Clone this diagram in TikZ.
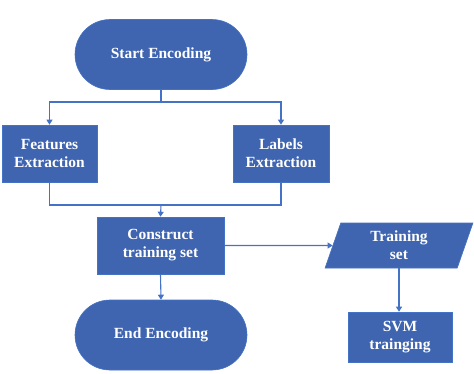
\documentclass[tikz,border=0pt]{standalone}
\usepackage{fontspec}
\setmainfont{Liberation Serif}
\usetikzlibrary{shapes.geometric,arrows.meta}
\definecolor{boxblue}{HTML}{3F65B0}
\definecolor{lineblue}{HTML}{4472C4}
\begin{document}
\begin{tikzpicture}[x=1pt,y=-1pt,
  every node/.style={font=\bfseries\fontsize{15.5}{18}\selectfont, text=white, align=center, inner sep=0pt},
  procbox/.style={rectangle, fill=boxblue, draw=lineblue, line width=0.6pt},
  termbox/.style={rectangle, rounded corners=35pt, fill=boxblue, draw=lineblue, line width=0.6pt, minimum width=172pt, minimum height=70pt},
  iobox/.style={trapezium, trapezium left angle=75, trapezium right angle=105, trapezium stretches=true, fill=boxblue, draw=lineblue, line width=0.6pt},
  conn/.style={draw=lineblue, line width=1.1pt},
  arr/.style={conn, -{Triangle[length=5pt,width=6pt]}}
]
\useasboundingbox (0,0) rectangle (474,373);
\node[termbox] (start) at (161,54.5) {Start Encoding};
\node[procbox, minimum width=95pt, minimum height=57pt] (feat) at (49.5,153.5) {Features\\Extraction};
\node[procbox, minimum width=96pt, minimum height=57pt] (lab) at (281,153.5) {Labels\\Extraction};
\node[procbox, minimum width=127pt, minimum height=57pt] (cons) at (160.5,245.5) {Construct\\training set};
\node[iobox, minimum width=148pt, minimum height=45pt] (ts) at (399,245.5) {Training\\set};
\node[procbox, minimum width=104pt, minimum height=50pt] (svm) at (400,337) {SVM\\trainging};
\node[termbox] (endn) at (161,335) {End Encoding};
\coordinate (split) at (161,102);
\coordinate (join) at (161,205);
\draw[conn] (start.south) -- (split);
\draw[arr] (split) -| (feat.north);
\draw[arr] (split) -| (lab.north);
\draw[conn] (feat.south) |- (join);
\draw[conn] (lab.south) |- (join);
\draw[arr] (join) -- (cons.north);
\draw[arr] (cons.east) -- (ts.west);
\draw[arr] (ts.south) -- (ts.south |- svm.north);
\draw[arr] (cons.south) -- (endn.north);
\end{tikzpicture}
\end{document}
